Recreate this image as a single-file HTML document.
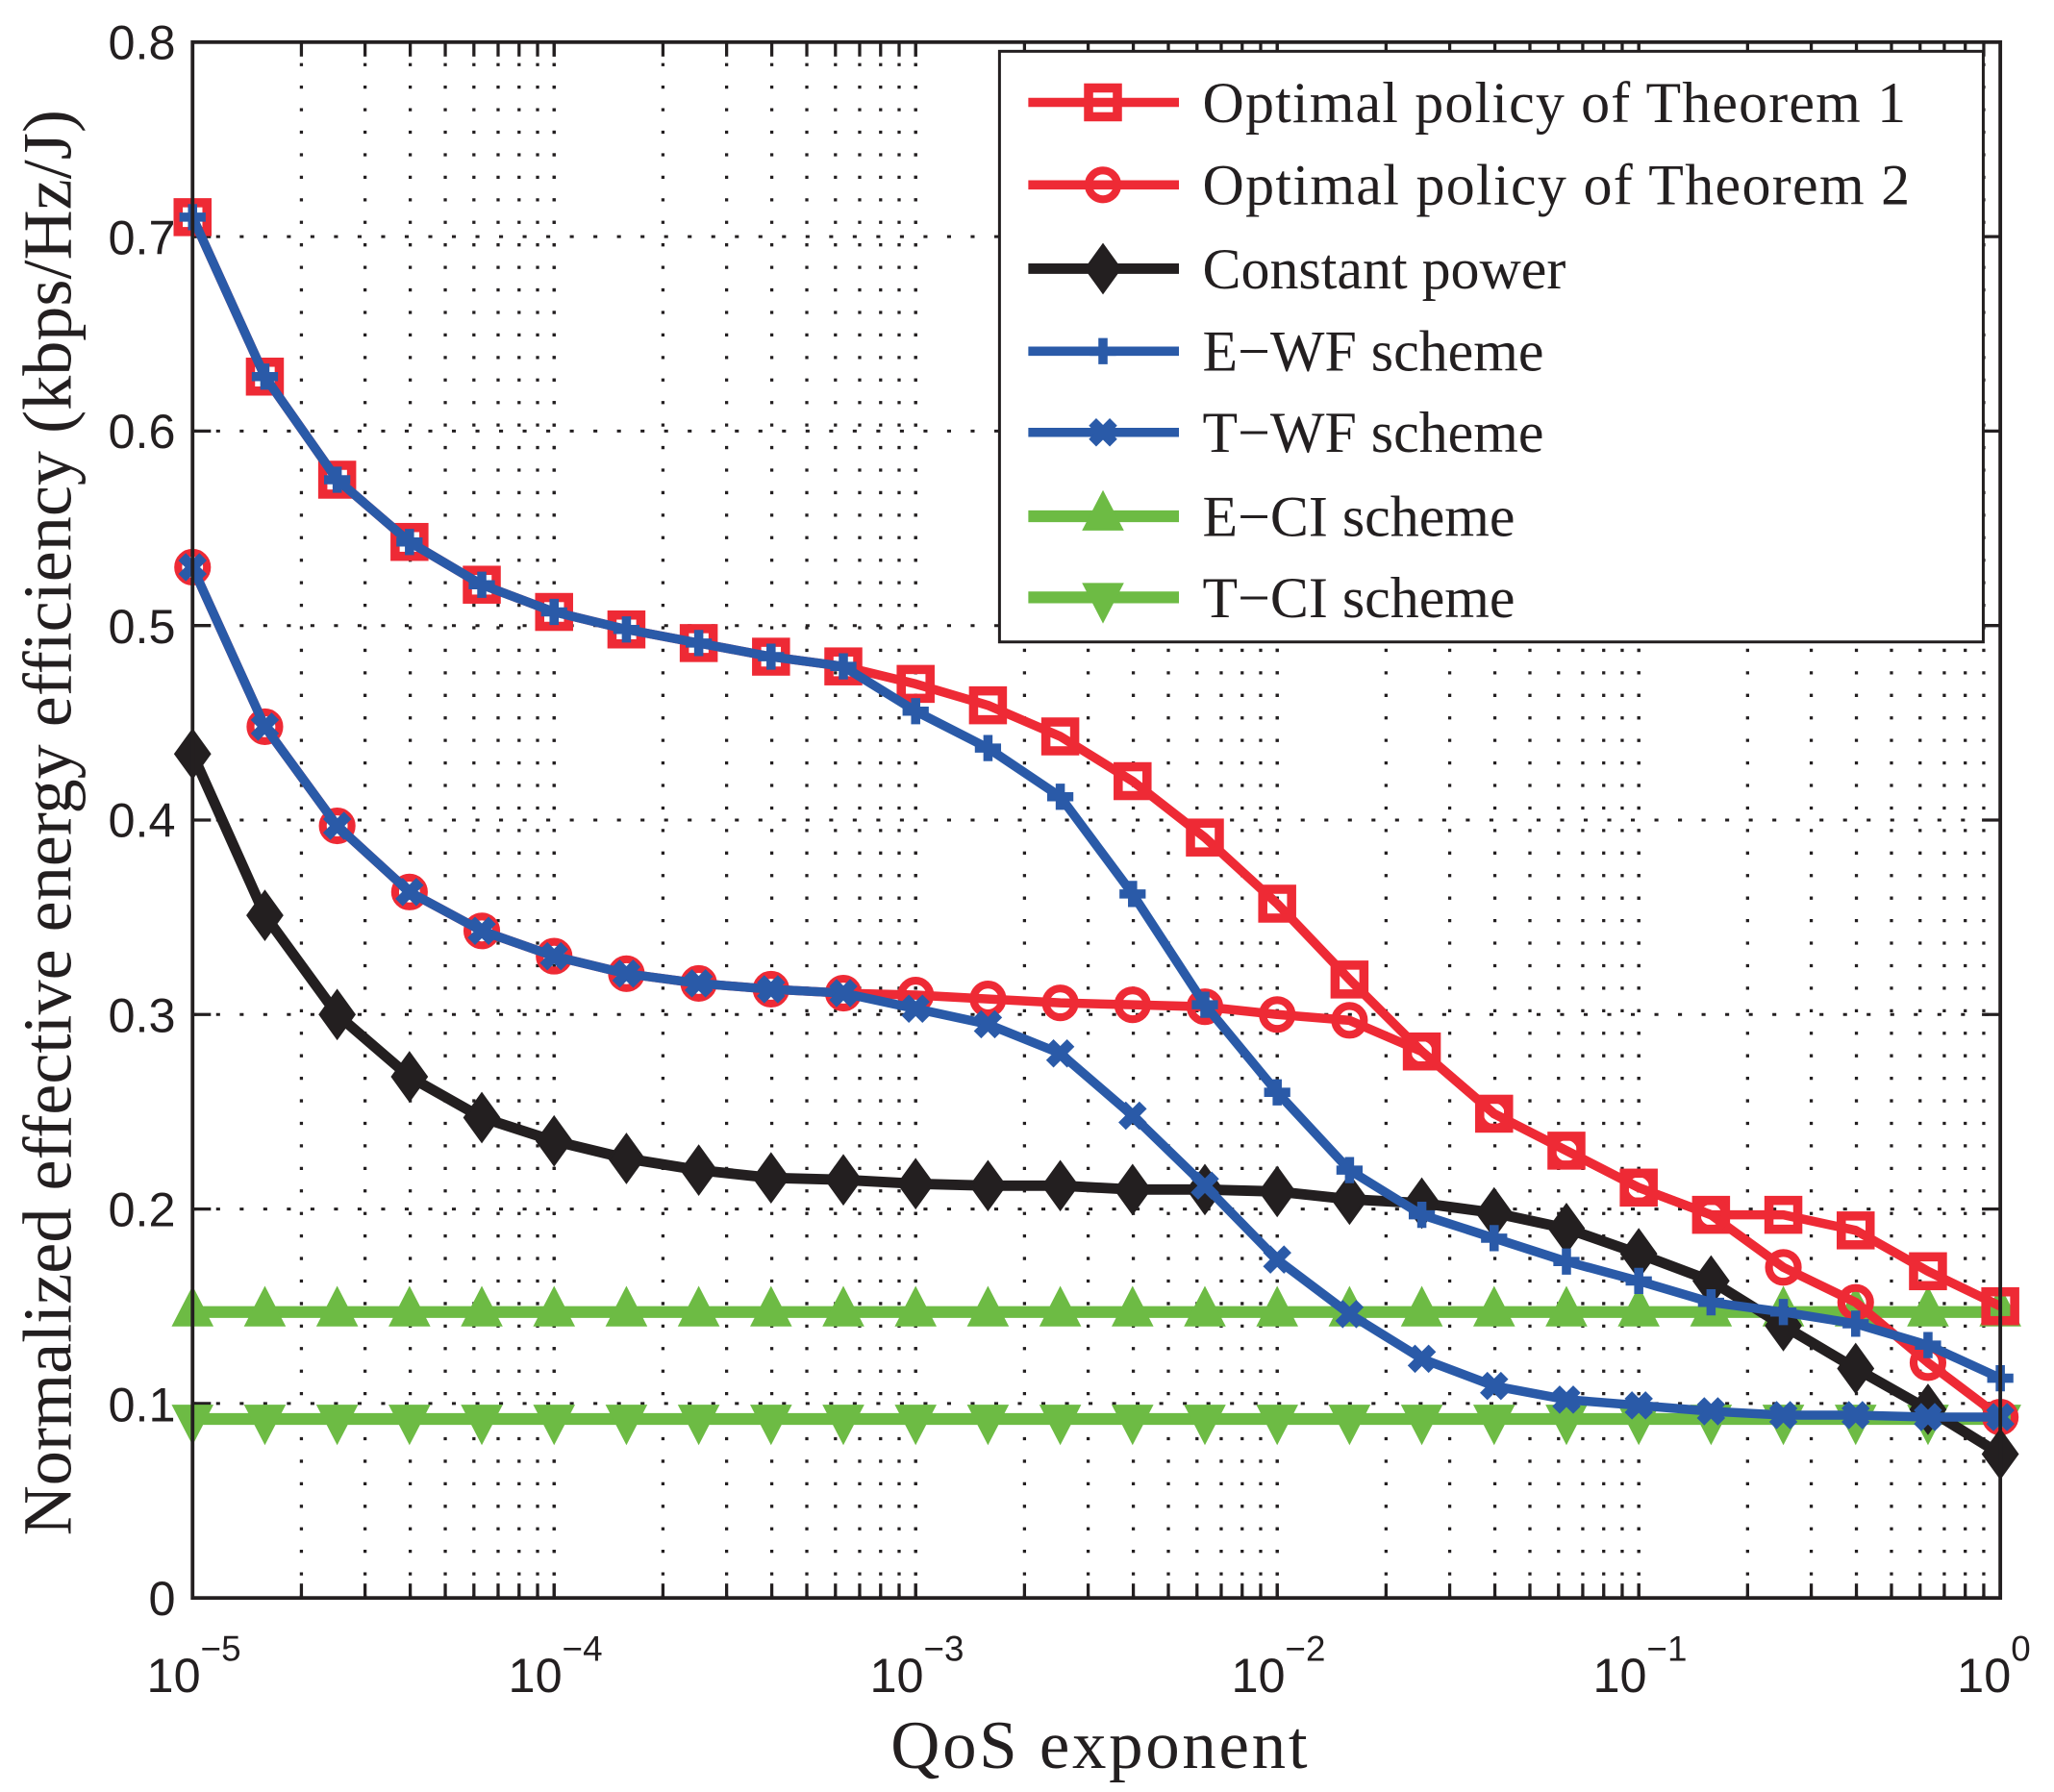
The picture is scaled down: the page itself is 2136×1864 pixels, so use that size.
<!DOCTYPE html>
<html><head><meta charset="utf-8"><style>
html,body{margin:0;padding:0;background:#fff;}
svg{display:block;}
</style></head><body>
<svg id="s" xmlns="http://www.w3.org/2000/svg" width="2136" height="1864" viewBox="0 0 1568 1368">
<rect x="0" y="0" width="1568" height="1368" fill="#fff"/>
<g id="grid"></g>
<g id="series"></g>
<rect x="147" y="32" width="1380" height="1188" fill="none" stroke="#231f20" stroke-width="2.8"/>
<g font-family="Liberation Sans, Arial, sans-serif" font-size="37" fill="#231f20" text-anchor="end">
<text x="134" y="1233">0</text>
<text x="134" y="1085">0.1</text>
<text x="134" y="936">0.2</text>
<text x="134" y="788">0.3</text>
<text x="134" y="639">0.4</text>
<text x="134" y="491">0.5</text>
<text x="134" y="342">0.6</text>
<text x="134" y="194">0.7</text>
<text x="134" y="45">0.8</text>
</g>
<g font-family="Liberation Sans, Arial, sans-serif" font-size="37" fill="#231f20">
<text x="112" y="1292">10<tspan dy="-24" font-size="27">−5</tspan></text>
<text x="388" y="1292">10<tspan dy="-24" font-size="27">−4</tspan></text>
<text x="664" y="1292">10<tspan dy="-24" font-size="27">−3</tspan></text>
<text x="940" y="1292">10<tspan dy="-24" font-size="27">−2</tspan></text>
<text x="1216" y="1292">10<tspan dy="-24" font-size="27">−1</tspan></text>
<text x="1494" y="1292">10<tspan dy="-24" font-size="27">0</tspan></text>
</g>
<text x="840" y="1350" font-family="Liberation Serif, serif" font-size="52" letter-spacing="2" fill="#231f20" text-anchor="middle">QoS exponent</text>
<text transform="translate(54,628) rotate(-90)" font-family="Liberation Serif, serif" font-size="53" fill="#231f20" text-anchor="middle">Normalized effective energy efficiency (kbps/Hz/J)</text>
<rect x="763" y="39" width="751" height="451" fill="#fff" stroke="#231f20" stroke-width="2.2"/>
<g id="leg"></g>
<g font-family="Liberation Serif, serif" font-size="44" fill="#231f20">
<text x="918" y="93" textLength="537">Optimal policy of Theorem 1</text>
<text x="918" y="156" textLength="540">Optimal policy of Theorem 2</text>
<text x="918" y="220">Constant power</text>
<text x="918" y="283">E−WF scheme</text>
<text x="918" y="345">T−WF scheme</text>
<text x="918" y="409">E−CI scheme</text>
<text x="918" y="471">T−CI scheme</text>
</g>
</svg>
<script>
var NS="http://www.w3.org/2000/svg";
function el(p,t,a){var e=document.createElementNS(NS,t);for(var k in a)e.setAttribute(k,a[k]);p.appendChild(e);return e;}
var X0=147,X1=1527,DEC=276,Y0=1220,PY=1485;
function X(i){return X0+i*DEC*0.2;}
function Y(v){return Y0-v*PY;}
var g=document.getElementById('grid');
for(var d=0;d<5;d++){for(var m=1;m<=10;m++){var x=X0+d*DEC+Math.log10(m)*DEC;if(m==1&&d==0)continue;
 el(g,'line',{x1:x,y1:1220,x2:x,y2:32,stroke:'#231f20','stroke-width':2.4,'stroke-dasharray':'2.4 14.8'});
 el(g,'line',{x1:x,y1:1220,x2:x,y2:1209,stroke:'#231f20','stroke-width':2.4});
 el(g,'line',{x1:x,y1:32,x2:x,y2:43,stroke:'#231f20','stroke-width':2.4});}}
for(var k=1;k<8;k++){var y=Y(k/10);
 el(g,'line',{x1:147,y1:y,x2:1527,y2:y,stroke:'#231f20','stroke-width':2.2,'stroke-dasharray':'3 15'});
 el(g,'line',{x1:147,y1:y,x2:161,y2:y,stroke:'#231f20','stroke-width':2.4});
 el(g,'line',{x1:1513,y1:y,x2:1527,y2:y,stroke:'#231f20','stroke-width':2.4});}
var T1=[0.71,0.628,0.575,0.543,0.521,0.507,0.498,0.491,0.484,0.479,0.470,0.459,0.443,0.420,0.391,0.357,0.318,0.281,0.249,0.230,0.211,0.197,0.197,0.189,0.168,0.150];
var T2=[0.530,0.448,0.397,0.363,0.343,0.330,0.321,0.316,0.313,0.311,0.310,0.308,0.306,0.305,0.304,0.300,0.297,0.281,0.249,0.230,0.211,0.197,0.170,0.152,0.121,0.093];
var CP=[0.434,0.351,0.300,0.268,0.247,0.235,0.226,0.220,0.216,0.215,0.213,0.212,0.212,0.210,0.210,0.209,0.205,0.203,0.198,0.190,0.177,0.163,0.140,0.118,0.097,0.074];
var EW=T1.slice(0,10).concat([0.456,0.437,0.412,0.362,0.305,0.260,0.220,0.197,0.185,0.173,0.163,0.152,0.147,0.141,0.130,0.113]);
var TW=T2.slice(0,10).concat([0.303,0.295,0.280,0.248,0.212,0.174,0.146,0.123,0.109,0.102,0.099,0.096,0.094,0.094,0.093,0.093]);
var EC=[],TC=[];for(var i=0;i<26;i++){EC.push(0.147);TC.push(0.092);}
var RED='#ee2a35',BLK='#231f20',BLU='#2a5aa8',GRN='#6dbb44';
function marker(p,type,x,y,c){
 if(type=='sq')el(p,'rect',{x:x-11,y:y-11,width:22,height:22,fill:'none',stroke:c,'stroke-width':7});
 else if(type=='ci')el(p,'circle',{cx:x,cy:y,r:11,fill:'none',stroke:c,'stroke-width':6});
 else if(type=='di')el(p,'polygon',{points:(x)+','+(y-18)+' '+(x+13)+','+y+' '+(x)+','+(y+18)+' '+(x-13)+','+y,fill:c,stroke:c,'stroke-width':2});
 else if(type=='pl'){el(p,'path',{d:'M'+(x-10)+' '+y+'H'+(x+10)+'M'+x+' '+(y-10)+'V'+(y+10),stroke:c,'stroke-width':7});}
 else if(type=='x'){el(p,'path',{d:'M'+(x-8)+' '+(y-8)+'L'+(x+8)+' '+(y+8)+'M'+(x+8)+' '+(y-8)+'L'+(x-8)+' '+(y+8),stroke:c,'stroke-width':8});}
 else if(type=='tu')el(p,'polygon',{points:x+','+(y-20)+' '+(x+16)+','+(y+11)+' '+(x-16)+','+(y+11),fill:c});
 else if(type=='td')el(p,'polygon',{points:x+','+(y+20)+' '+(x+16)+','+(y-11)+' '+(x-16)+','+(y-11),fill:c});
}
var S=document.getElementById('series');
var list=[[EC,GRN,'tu',9],[TC,GRN,'td',9],[T1,RED,'sq',7],[T2,RED,'ci',7],[CP,BLK,'di',8],[EW,BLU,'pl',7],[TW,BLU,'x',7]];
list.forEach(function(s){var pts=s[0].map(function(v,i){return X(i)+','+Y(v);}).join(' ');
 el(S,'polyline',{points:pts,fill:'none',stroke:s[1],'stroke-width':s[3],'stroke-linejoin':'round'});
 s[0].forEach(function(v,i){marker(S,s[2],X(i),Y(v),s[1]);});});
var L=document.getElementById('leg');
var ly=[78,141,205,268,330,394,456],lt=[[RED,'sq',7],[RED,'ci',7],[BLK,'di',8],[BLU,'pl',7],[BLU,'x',7],[GRN,'tu',9],[GRN,'td',9]];
ly.forEach(function(y,i){el(L,'line',{x1:785,y1:y,x2:900,y2:y,stroke:lt[i][0],'stroke-width':lt[i][2]});marker(L,lt[i][1],842,y,lt[i][0]);});
</script>
</body></html>
